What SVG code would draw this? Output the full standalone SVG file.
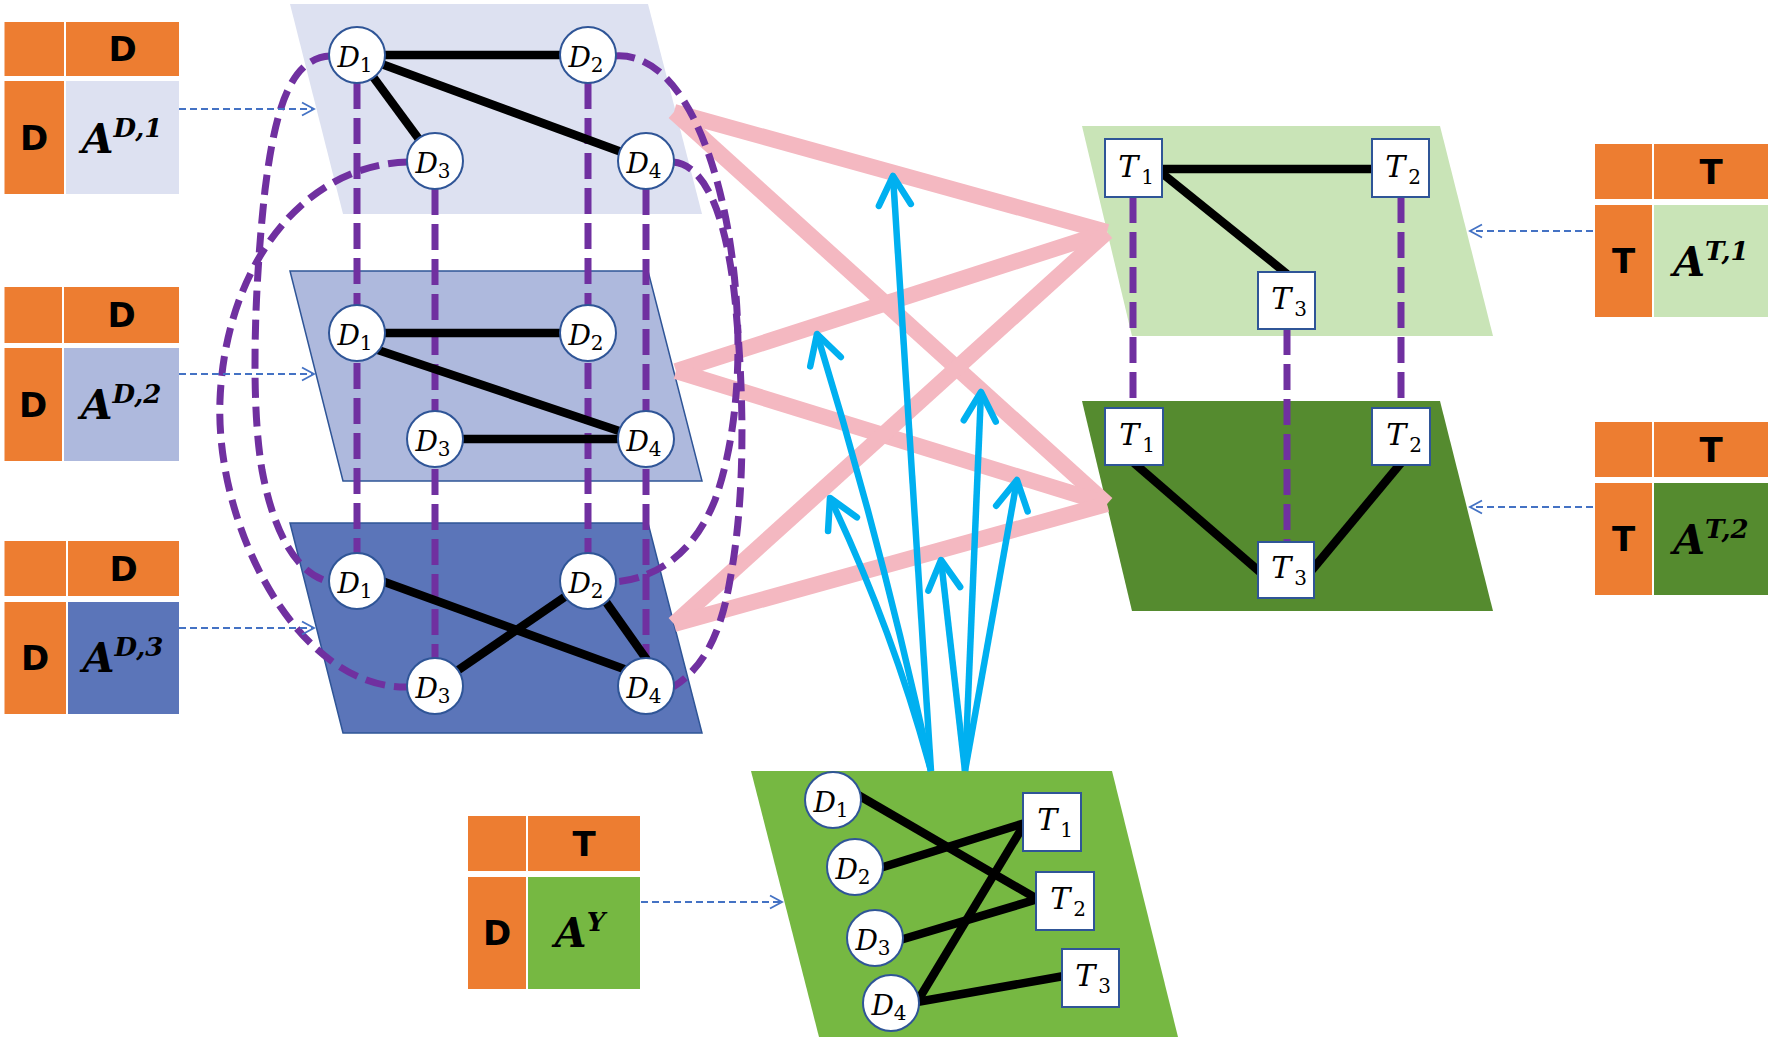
<svg xmlns="http://www.w3.org/2000/svg" width="1770" height="1043" viewBox="0 0 1770 1043">
<defs>
<marker id="cyanHead" markerUnits="userSpaceOnUse" orient="auto" refX="0" refY="0" markerWidth="60" markerHeight="60" viewBox="-40 -30 60 60" overflow="visible">
<path d="M-29,-16 L0,0 L-29,16" fill="none" stroke="#00b0f0" stroke-width="6.5" stroke-linecap="round" stroke-linejoin="round"/>
</marker>
<marker id="blueHead" markerUnits="userSpaceOnUse" orient="auto" refX="0" refY="0" markerWidth="30" markerHeight="30" viewBox="-15 -15 30 30" overflow="visible">
<path d="M-12,-6.5 L0,0 L-12,6.5" fill="none" stroke="#4472c4" stroke-width="1.8"/>
</marker>
</defs>
<style>
.orange{fill:#ed7d31}
.hdr{font-family:"DejaVu Sans","Liberation Sans",sans-serif;font-weight:bold;font-size:34px;fill:#000;text-anchor:middle}
.mat{font-family:"DejaVu Serif","Liberation Serif",serif;font-weight:bold;font-style:italic;font-size:41px;fill:#000;text-anchor:middle}
.sup{font-size:26px}
.nl{font-family:"DejaVu Serif","Liberation Serif",serif;font-style:italic;font-size:28px;fill:#000;text-anchor:middle}
.tl{font-family:"DejaVu Serif","Liberation Serif",serif;font-style:italic;font-size:30px;fill:#000;text-anchor:middle}
.sub{font-style:normal;font-size:20px}
.circ{fill:#fff;stroke:#2f5597;stroke-width:2}
.sq{fill:#fff;stroke:#2f5597;stroke-width:2}
.pink{stroke:#f4b8c1;stroke-width:16;fill:none}
.pv{stroke:#7030a0;stroke-width:7;fill:none;stroke-dasharray:26 9}
.pc{stroke:#7030a0;stroke-width:7;fill:none;stroke-dasharray:20 9}
.blk{stroke:#000;stroke-width:8.5;fill:none}
.cyan{stroke:#00b0f0;stroke-width:6.5;fill:none;marker-end:url(#cyanHead)}
.bdash{stroke:#4472c4;stroke-width:1.8;fill:none;stroke-dasharray:7 4;marker-end:url(#blueHead)}
</style>
<rect width="1770" height="1043" fill="#fff"/>

<g id="layers">
<polygon id="layer-d1" points="290,4 648,4 702,214 343,214" fill="#dde1f1"/>
<polygon id="layer-d2" points="290,271 648,271 702,481 343,481" fill="#aeb9dd" stroke="#2f5597" stroke-width="1.5"/>
<polygon id="layer-d3" points="290,523 648,523 702,733 343,733" fill="#5b75b9" stroke="#2f5597" stroke-width="1.5"/>
<polygon id="layer-t1" points="1082,126 1440,126 1493,336 1132,336" fill="#c9e4b7"/>
<polygon id="layer-t2" points="1082,401 1440,401 1493,611 1132,611" fill="#558b2f"/>
<polygon id="layer-y" points="751,771 1112,771 1178,1037 819,1037" fill="#76b842"/>
</g>

<g id="connectors">
<line class="pink" x1="674" y1="112" x2="1107" y2="232"/>
<line class="pink" x1="674" y1="112" x2="1107" y2="504"/>
<line class="pink" x1="676" y1="371" x2="1107" y2="232"/>
<line class="pink" x1="676" y1="371" x2="1107" y2="504"/>
<line class="pink" x1="674" y1="624" x2="1107" y2="232"/>
<line class="pink" x1="674" y1="624" x2="1107" y2="504"/>

<line class="pv" x1="357" y1="83" x2="357" y2="553"/>
<line class="pv" x1="435" y1="189" x2="435" y2="658"/>
<line class="pv" x1="588" y1="83" x2="588" y2="553"/>
<line class="pv" x1="646" y1="189" x2="646" y2="658"/>
<line class="pv" x1="1133" y1="197" x2="1133" y2="408"/>
<line class="pv" x1="1287" y1="329" x2="1287" y2="542"/>
<line class="pv" x1="1401" y1="197" x2="1401" y2="408"/>

<path class="pc" d="M330,56 C290,58 275,110 265,190 C255,280 250,400 262,470 C275,540 300,575 330,582"/>
<path class="pc" d="M408,162 C300,165 225,270 220,400 C215,530 300,690 408,687"/>
<path class="pc" d="M615,56 C675,52 712,140 728,230 C745,330 740,430 715,500 C695,550 660,578 615,582"/>
<path class="pc" d="M673,162 C710,165 728,230 735,300 C745,400 745,500 730,580 C720,640 700,670 673,687"/>

<line class="blk" x1="357" y1="55" x2="588" y2="55"/>
<line class="blk" x1="357" y1="55" x2="435" y2="161"/>
<line class="blk" x1="357" y1="55" x2="646" y2="161"/>
<line class="blk" x1="357" y1="333" x2="588" y2="333"/>
<line class="blk" x1="357" y1="343" x2="646" y2="440"/>
<line class="blk" x1="435" y1="439" x2="646" y2="439"/>
<line class="blk" x1="357" y1="572" x2="646" y2="677"/>
<line class="blk" x1="588" y1="581" x2="435" y2="686"/>
<line class="blk" x1="594" y1="585" x2="647" y2="660"/>

<line class="blk" x1="1161" y1="169" x2="1372" y2="169"/>
<line class="blk" x1="1158" y1="170" x2="1287" y2="274"/>
<line class="blk" x1="1134" y1="463" x2="1260" y2="572"/>
<line class="blk" x1="1312" y1="570" x2="1401" y2="463"/>

<line class="blk" x1="858" y1="795" x2="1039" y2="900"/>
<line class="blk" x1="880" y1="868" x2="1025" y2="823"/>
<line class="blk" x1="900" y1="940" x2="1038" y2="899"/>
<line class="blk" x1="917" y1="1002" x2="1025" y2="823" stroke-width="5.5"/>
<line class="blk" x1="917" y1="1002" x2="1064" y2="976"/>

<line class="cyan" x1="931" y1="771" x2="893" y2="176"/>
<path class="cyan" d="M931,771 Q884,552 817,334"/>
<path class="cyan" d="M931,771 Q893,630 830,498"/>
<line class="cyan" x1="965" y1="771" x2="941" y2="560"/>
<line class="cyan" x1="965" y1="771" x2="981" y2="392"/>
<line class="cyan" x1="965" y1="771" x2="1017" y2="480"/>

<line class="bdash" x1="179" y1="109" x2="314" y2="109"/>
<line class="bdash" x1="179" y1="374" x2="314" y2="374"/>
<line class="bdash" x1="179" y1="628" x2="314" y2="628"/>
<line class="bdash" x1="1593" y1="231" x2="1470" y2="231"/>
<line class="bdash" x1="1593" y1="507" x2="1470" y2="507"/>
<line class="bdash" x1="641" y1="902" x2="782" y2="902"/>
</g>

<g id="node-d1-l1"><circle class="circ" cx="357" cy="55" r="28"/><text class="nl" x="355" y="67">D<tspan class="sub" dy="5">1</tspan></text></g>
<g id="node-d2-l1"><circle class="circ" cx="588" cy="55" r="28"/><text class="nl" x="586" y="67">D<tspan class="sub" dy="5">2</tspan></text></g>
<g id="node-d3-l1"><circle class="circ" cx="435" cy="161" r="28"/><text class="nl" x="433" y="173">D<tspan class="sub" dy="5">3</tspan></text></g>
<g id="node-d4-l1"><circle class="circ" cx="646" cy="161" r="28"/><text class="nl" x="644" y="173">D<tspan class="sub" dy="5">4</tspan></text></g>

<g id="node-d1-l2"><circle class="circ" cx="357" cy="333" r="28"/><text class="nl" x="355" y="345">D<tspan class="sub" dy="5">1</tspan></text></g>
<g id="node-d2-l2"><circle class="circ" cx="588" cy="333" r="28"/><text class="nl" x="586" y="345">D<tspan class="sub" dy="5">2</tspan></text></g>
<g id="node-d3-l2"><circle class="circ" cx="435" cy="439" r="28"/><text class="nl" x="433" y="451">D<tspan class="sub" dy="5">3</tspan></text></g>
<g id="node-d4-l2"><circle class="circ" cx="646" cy="439" r="28"/><text class="nl" x="644" y="451">D<tspan class="sub" dy="5">4</tspan></text></g>

<g id="node-d1-l3"><circle class="circ" cx="357" cy="581" r="28"/><text class="nl" x="355" y="593">D<tspan class="sub" dy="5">1</tspan></text></g>
<g id="node-d2-l3"><circle class="circ" cx="588" cy="581" r="28"/><text class="nl" x="586" y="593">D<tspan class="sub" dy="5">2</tspan></text></g>
<g id="node-d3-l3"><circle class="circ" cx="435" cy="686" r="28"/><text class="nl" x="433" y="698">D<tspan class="sub" dy="5">3</tspan></text></g>
<g id="node-d4-l3"><circle class="circ" cx="646" cy="686" r="28"/><text class="nl" x="644" y="698">D<tspan class="sub" dy="5">4</tspan></text></g>

<g id="node-t1-l1"><rect class="sq" x="1105" y="139" width="57" height="58"/><text class="tl" x="1136" y="177">T<tspan class="sub" dx="3" dy="7">1</tspan></text></g>
<g id="node-t2-l1"><rect class="sq" x="1372" y="139" width="57" height="58"/><text class="tl" x="1403" y="177">T<tspan class="sub" dx="3" dy="7">2</tspan></text></g>
<g id="node-t3-l1"><rect class="sq" x="1258" y="272" width="57" height="57"/><text class="tl" x="1289" y="309">T<tspan class="sub" dx="3" dy="7">3</tspan></text></g>

<g id="node-t1-l2"><rect class="sq" x="1105" y="408" width="58" height="57"/><text class="tl" x="1137" y="445">T<tspan class="sub" dx="3" dy="7">1</tspan></text></g>
<g id="node-t2-l2"><rect class="sq" x="1372" y="408" width="58" height="57"/><text class="tl" x="1404" y="445">T<tspan class="sub" dx="3" dy="7">2</tspan></text></g>
<g id="node-t3-l2"><rect class="sq" x="1258" y="542" width="56" height="56"/><text class="tl" x="1289" y="578">T<tspan class="sub" dx="3" dy="7">3</tspan></text></g>

<g id="node-d1-y"><circle class="circ" cx="833" cy="800" r="28"/><text class="nl" x="831" y="812">D<tspan class="sub" dy="5">1</tspan></text></g>
<g id="node-d2-y"><circle class="circ" cx="855" cy="867" r="28"/><text class="nl" x="853" y="879">D<tspan class="sub" dy="5">2</tspan></text></g>
<g id="node-d3-y"><circle class="circ" cx="875" cy="938" r="28"/><text class="nl" x="873" y="950">D<tspan class="sub" dy="5">3</tspan></text></g>
<g id="node-d4-y"><circle class="circ" cx="891" cy="1003" r="28"/><text class="nl" x="889" y="1015">D<tspan class="sub" dy="5">4</tspan></text></g>
<g id="node-t1-y"><rect class="sq" x="1023" y="793" width="58" height="58"/><text class="tl" x="1055" y="830">T<tspan class="sub" dx="3" dy="7">1</tspan></text></g>
<g id="node-t2-y"><rect class="sq" x="1036" y="872" width="58" height="58"/><text class="tl" x="1068" y="909">T<tspan class="sub" dx="3" dy="7">2</tspan></text></g>
<g id="node-t3-y"><rect class="sq" x="1062" y="949" width="57" height="58"/><text class="tl" x="1093" y="986">T<tspan class="sub" dx="3" dy="7">3</tspan></text></g>

<g id="table-ad1">
<rect class="orange" x="4.5" y="22" width="59.5" height="54"/>
<rect class="orange" x="66" y="22" width="113" height="54"/>
<rect class="orange" x="4.5" y="81" width="59.5" height="113"/>
<rect x="66" y="81" width="113" height="113" fill="#dde1f1"/>
<text class="hdr" x="122.5" y="61">D</text>
<text class="hdr" x="34" y="150">D</text>
<text class="mat" x="122" y="153">A<tspan class="sup" dy="-16">D,1</tspan></text>
</g>
<g id="table-ad2">
<rect class="orange" x="4.5" y="287" width="57.5" height="56"/>
<rect class="orange" x="64" y="287" width="115" height="56"/>
<rect class="orange" x="4.5" y="348" width="57.5" height="113"/>
<rect x="64" y="348" width="115" height="113" fill="#aeb9dd"/>
<text class="hdr" x="121.5" y="327">D</text>
<text class="hdr" x="33" y="417">D</text>
<text class="mat" x="121" y="419">A<tspan class="sup" dy="-16">D,2</tspan></text>
</g>
<g id="table-ad3">
<rect class="orange" x="4.5" y="541" width="61.5" height="55"/>
<rect class="orange" x="68" y="541" width="111" height="55"/>
<rect class="orange" x="4.5" y="602" width="61.5" height="112"/>
<rect x="68" y="602" width="111" height="112" fill="#5b75b9"/>
<text class="hdr" x="123.5" y="581">D</text>
<text class="hdr" x="35" y="670">D</text>
<text class="mat" x="123" y="672">A<tspan class="sup" dy="-16">D,3</tspan></text>
</g>
<g id="table-at1">
<rect class="orange" x="1595" y="144" width="57" height="55"/>
<rect class="orange" x="1654" y="144" width="114" height="55"/>
<rect class="orange" x="1595" y="205" width="57" height="112"/>
<rect x="1654" y="205" width="114" height="112" fill="#c9e4b7"/>
<text class="hdr" x="1711" y="184">T</text>
<text class="hdr" x="1623.5" y="273">T</text>
<text class="mat" x="1711" y="276">A<tspan class="sup" dy="-16">T,1</tspan></text>
</g>
<g id="table-at2">
<rect class="orange" x="1595" y="422" width="57" height="55"/>
<rect class="orange" x="1654" y="422" width="114" height="55"/>
<rect class="orange" x="1595" y="483" width="57" height="112"/>
<rect x="1654" y="483" width="114" height="112" fill="#558b2f"/>
<text class="hdr" x="1711" y="462">T</text>
<text class="hdr" x="1623.5" y="551">T</text>
<text class="mat" x="1711" y="554">A<tspan class="sup" dy="-16">T,2</tspan></text>
</g>
<g id="table-ay">
<rect class="orange" x="468" y="816" width="58" height="55"/>
<rect class="orange" x="528" y="816" width="112" height="55"/>
<rect class="orange" x="468" y="877" width="58" height="112"/>
<rect x="528" y="877" width="112" height="112" fill="#76b842"/>
<text class="hdr" x="584" y="856">T</text>
<text class="hdr" x="497" y="945">D</text>
<text class="mat" x="580" y="947">A<tspan class="sup" dy="-16">Y</tspan></text>
</g>
</svg>
